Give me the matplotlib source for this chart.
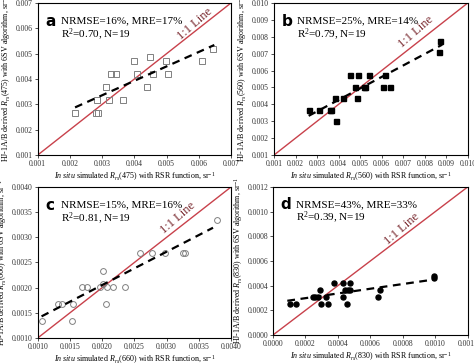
import numpy as np
import matplotlib
matplotlib.use('Agg')
import matplotlib.pyplot as plt
from matplotlib.ticker import FormatStrFormatter

plt.rcParams['font.family'] = ['Liberation Serif', 'DejaVu Serif']
plt.rcParams['mathtext.fontset'] = 'custom'
plt.rcParams['mathtext.rm'] = 'Liberation Serif'
plt.rcParams['mathtext.it'] = 'Liberation Serif:italic'

# panel a, 475 nm (open squares)
a_x = [0.00216, 0.00283, 0.00280, 0.00288, 0.00311, 0.00320, 0.00327, 0.00343, 0.00364,
       0.00399, 0.00407, 0.00438, 0.00447, 0.00459, 0.00499, 0.00505, 0.00610, 0.00643]
a_y = [0.00266, 0.00318, 0.00266, 0.00266, 0.00368, 0.00318, 0.00418, 0.00418, 0.00318,
       0.00469, 0.00418, 0.00368, 0.00486, 0.00418, 0.00469, 0.00418, 0.00472, 0.00520]
a_fit = ([0.00216, 0.00648], [0.00288, 0.00534])

# panel b, 560 nm (filled squares)
b_x = [0.00261, 0.00311, 0.00358, 0.00366, 0.00381, 0.00389, 0.00420, 0.00455, 0.00478, 0.00486,
       0.00491, 0.00516, 0.00523, 0.00539, 0.00608, 0.00617, 0.00639, 0.00866, 0.00870]
b_y = [0.00369, 0.00369, 0.00369, 0.00369, 0.00437, 0.00300, 0.00437, 0.00573, 0.00504, 0.00437,
       0.00573, 0.00504, 0.00504, 0.00573, 0.00504, 0.00573, 0.00504, 0.00708, 0.00777]
b_fit = ([0.00261, 0.00881], [0.00332, 0.00753])

# panel c, 660 nm (open circles)
c_x = [0.00107, 0.00131, 0.00138, 0.00153, 0.00155, 0.00168, 0.00177, 0.00196, 0.00201, 0.00201,
       0.00206, 0.00207, 0.00217, 0.00235, 0.00259, 0.00278, 0.00297, 0.00325, 0.00329, 0.00378]
c_y = [0.00134, 0.00167, 0.00167, 0.00134, 0.00167, 0.00201, 0.00201, 0.00201, 0.00234, 0.00207,
       0.00167, 0.00201, 0.00201, 0.00201, 0.00268, 0.00268, 0.00268, 0.00268, 0.00268, 0.00335]
c_fit = ([0.00106, 0.00372], [0.00143, 0.00319])

# panel d, 830 nm (filled circles)
d_x = [0.000103, 0.000139, 0.000246, 0.000260, 0.000277, 0.000290, 0.000296, 0.000327, 0.000338,
       0.000378, 0.000428, 0.000432, 0.000445, 0.000457, 0.000460, 0.000472, 0.000472, 0.000644,
       0.000661, 0.000990, 0.000990]
d_y = [0.000253, 0.000253, 0.000309, 0.000309, 0.000309, 0.000363, 0.000253, 0.000309, 0.000253,
       0.000419, 0.000309, 0.000419, 0.000363, 0.000253, 0.000363, 0.000363, 0.000419, 0.000309,
       0.000363, 0.000475, 0.000462]
d_fit = ([0.000088, 0.00100], [0.000277, 0.000451])

panels = [
    dict(pos=[0.0795, 0.574, 0.408, 0.418], x=a_x, y=a_y, fit=a_fit, lim=(0.001, 0.007), step=0.001,
         fmt='%.3f', marker='s', filled=False, letter='a', band='475',
         stats=('NRMSE=16%, MRE=17%', 'R$^2$=0.70, N=19'), lbl=(0.00588, 0.00618)),
    dict(pos=[0.578, 0.574, 0.409, 0.418], x=b_x, y=b_y, fit=b_fit, lim=(0.001, 0.010), step=0.001,
         fmt='%.3f', marker='s', filled=True, letter='b', band='560',
         stats=('NRMSE=25%, MRE=14%', 'R$^2$=0.79, N=19'), lbl=(0.00758, 0.00828)),
    dict(pos=[0.0795, 0.0714, 0.408, 0.415], x=c_x, y=c_y, fit=c_fit, lim=(0.0010, 0.0040), step=0.0005,
         fmt='%.4f', marker='o', filled=False, letter='c', band='660',
         stats=('NRMSE=15%, MRE=16%', 'R$^2$=0.81, N=19'), lbl=(0.00317, 0.00339)),
    dict(pos=[0.576, 0.0797, 0.411, 0.407], x=d_x, y=d_y, fit=d_fit, lim=(0.0, 0.0012), step=0.0002,
         fmt='%.4f', marker='o', filled=True, letter='d', band='830',
         stats=('NRMSE=43%, MRE=33%', 'R$^2$=0.39, N=19'), lbl=(0.000793, 0.000858)),
]

fig = plt.figure(figsize=(4.74, 3.64), dpi=100)

for p in panels:
    ax = fig.add_axes(p['pos'])
    lo, hi = p['lim']
    ax.plot([lo, hi], [lo, hi], color='#c8414b', lw=1.0, zorder=2)
    if p['filled']:
        ax.plot(p['x'], p['y'], p['marker'], ms=3.6, color='black', ls='none', zorder=3)
    else:
        ax.plot(p['x'], p['y'], p['marker'], ms=4.2, mfc='none', mec='#808080', mew=0.7,
                ls='none', zorder=3)
    ax.plot(p['fit'][0], p['fit'][1], color='black', lw=1.6, dashes=(3.5, 2.5), zorder=4)
    ticks = np.arange(lo, hi + p['step'] / 2, p['step'])
    ax.set_xticks(ticks)
    ax.set_yticks(ticks)
    ax.set_xlim(lo, hi)
    ax.set_ylim(lo, hi)
    ax.xaxis.set_major_formatter(FormatStrFormatter(p['fmt']))
    ax.yaxis.set_major_formatter(FormatStrFormatter(p['fmt']))
    ax.tick_params(labelsize=5.5, length=2, width=0.6, pad=1.5, colors='#333333')
    for s in ax.spines.values():
        s.set_linewidth(0.8)
    ax.text(0.038, 0.88, p['letter'], transform=ax.transAxes, fontsize=11, fontweight='bold',
            family='DejaVu Sans', va='center', ha='left')
    ax.text(0.12, 0.88, p['stats'][0], transform=ax.transAxes, fontsize=8, va='center', ha='left')
    ax.text(0.12, 0.79, p['stats'][1], transform=ax.transAxes, fontsize=8, va='center', ha='left')
    ax.text(p['lbl'][0], p['lbl'][1], '1:1 Line', fontsize=9, color='#7a2a30', rotation=41,
            ha='center', va='center', rotation_mode='anchor')
    band = p['band']
    ax.set_xlabel('$\\it{In\\ situ}$ simulated $\\it{R}_{rs}$(' + band + ') with RSR function, sr$^{-1}$',
                  fontsize=5.8, labelpad=2)
    ax.set_ylabel('HJ-1A/B derived $\\it{R}_{rs}$(' + band + ') with 6SV algorithm, sr$^{-1}$',
                  fontsize=5.8, labelpad=2)

fig.savefig('out.png', dpi=100)
